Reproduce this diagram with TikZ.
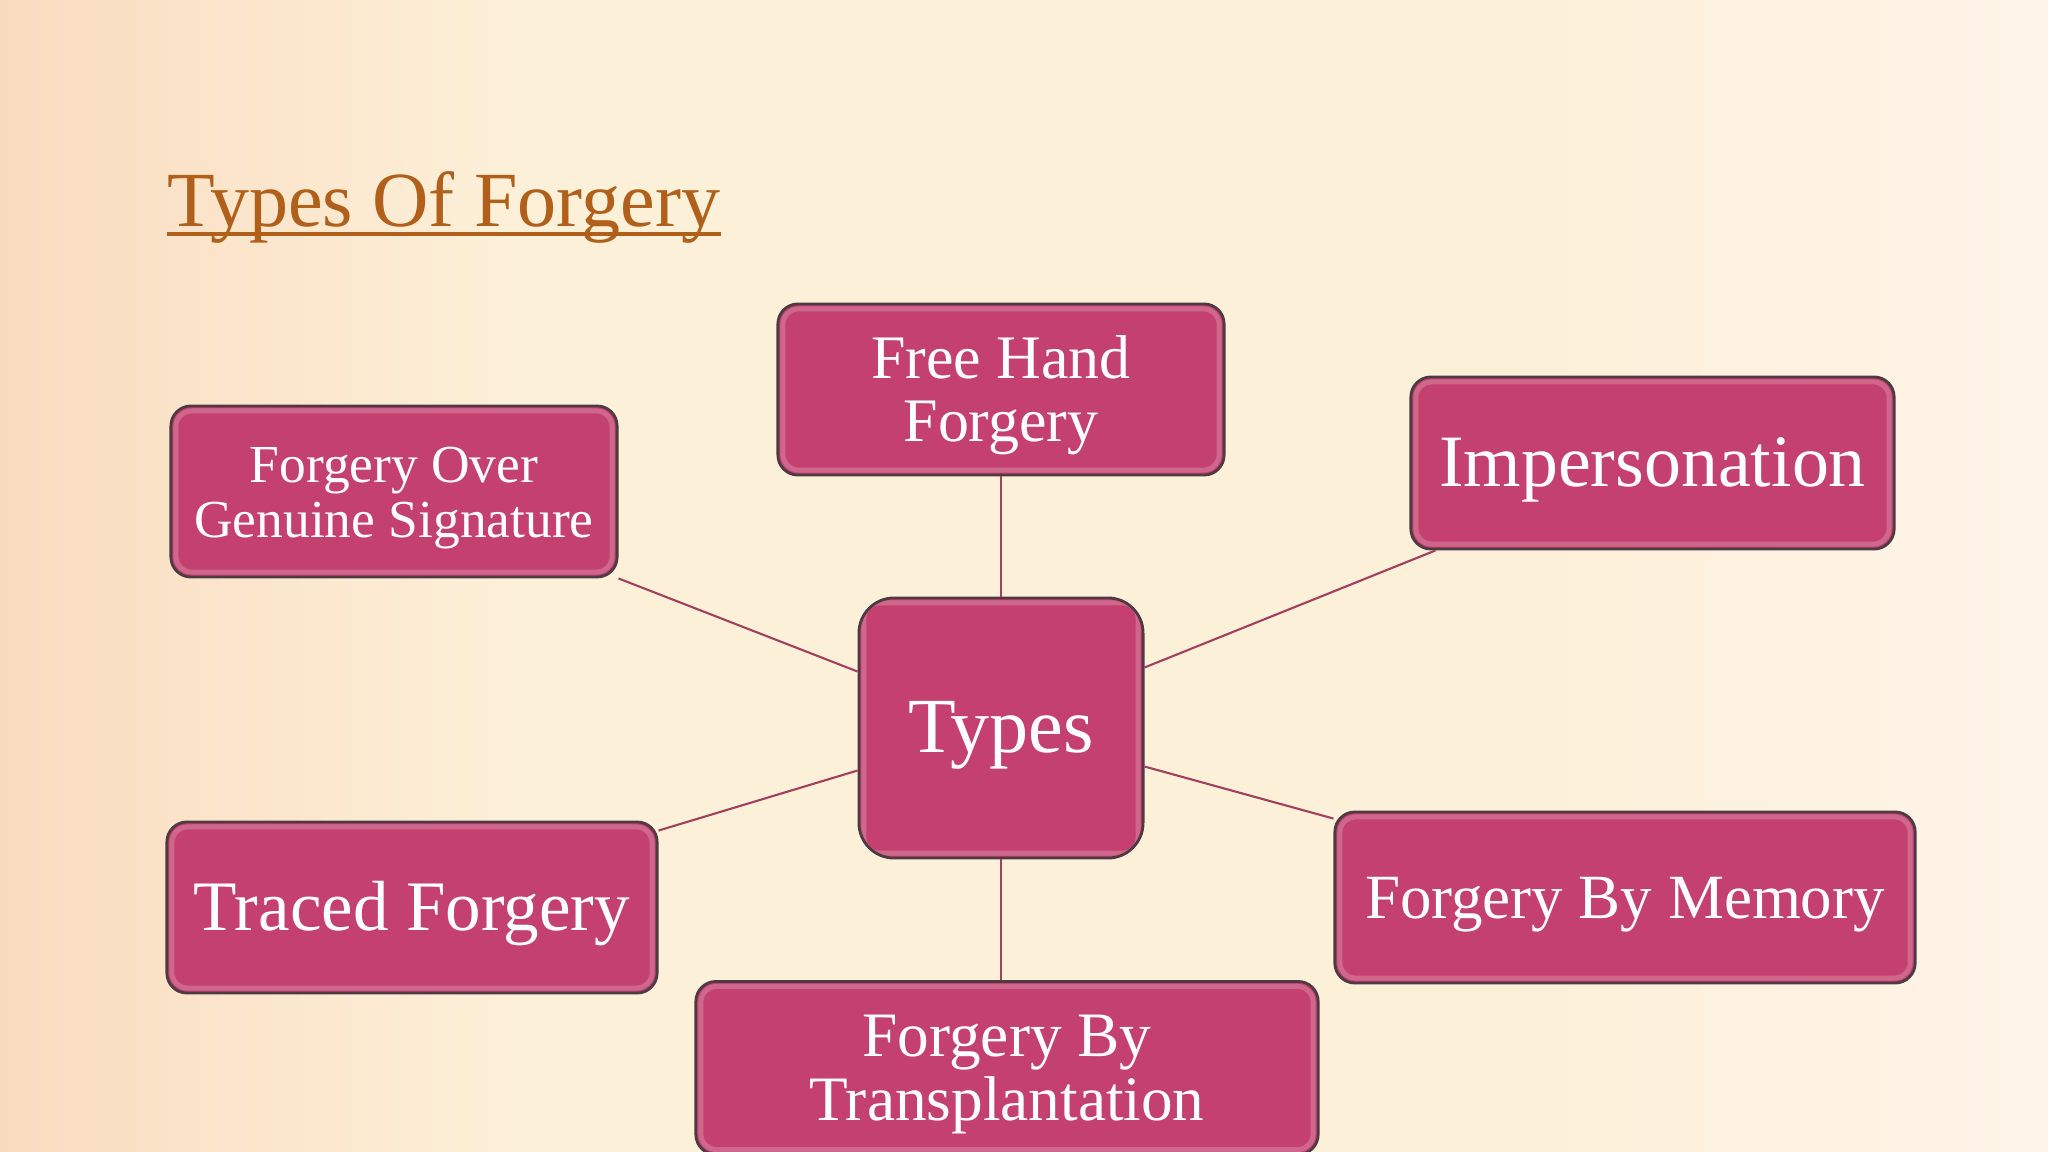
\documentclass[tikz,border=0pt]{standalone}
\usepackage{fontspec}
\setmainfont{Liberation Serif}
\usetikzlibrary{calc}
\definecolor{boxfill}{HTML}{C4416F}
\definecolor{boxline}{HTML}{4E3A42}
\definecolor{conn}{HTML}{A3405E}
\definecolor{titlec}{HTML}{B0601A}
\definecolor{bgA}{HTML}{F9DCC0}
\definecolor{bgB}{HTML}{FDF0D9}
\definecolor{bgC}{HTML}{FEF4E8}
\newcommand\cardtext[1]{\raisebox{-2.2pt}[\height][\depth]{\begin{tabular}{@{}c@{}}#1\end{tabular}}}
\begin{document}
\begin{tikzpicture}[x=0.01cm,y=-0.01cm,
  card/.style={rectangle, rounded corners=5.7pt, fill=boxfill, draw=boxline, line width=0.8pt,
    text=white, align=center, inner sep=0pt,
    path picture={\draw[white, opacity=0.2, line width=1.4pt, rounded corners=4.5pt]
      ($(path picture bounding box.south west)+(5,-5)$) rectangle ($(path picture bounding box.north east)+(-5,5)$);}},
  link/.style={draw=conn, line width=0.6pt}]
\useasboundingbox (0,0) rectangle (2048,1152);
\clip (0,0) rectangle (2048,1152);
\fill[bgB] (0,0) rectangle (2048,1152);
\fill[left color=bgA, right color=bgB] (0,0) rectangle (520,1152);
\fill[left color=bgB, right color=bgC] (1500,0) rectangle (2048,1152);
% title
\node[anchor=base west, inner sep=0pt, text=titlec, font={\fontsize{22.2}{24}\selectfont}] (title) at (167,227) {Types Of Forgery};
\draw[titlec, line width=1pt] ($(title.base west)+(0,7)$) -- ($(title.base east)+(0,7)$);
% nodes
\node[card, rounded corners=10pt, minimum width=2.84cm, minimum height=2.60cm, font={\fontsize{22.2}{24}\selectfont}] (types) at (1001,728) {\cardtext{Types}};
\node[card, minimum width=4.46cm, minimum height=1.71cm, font={\fontsize{17.6}{18}\selectfont}] (fh) at (1001,389.5) {\cardtext{Free Hand\\Forgery}};
\node[card, minimum width=4.46cm, minimum height=1.71cm, font={\fontsize{15.2}{15.4}\selectfont}] (fog) at (394,491.5) {\cardtext{Forgery Over\\Genuine Signature}};
\node[card, minimum width=4.83cm, minimum height=1.72cm, font={\fontsize{21}{22}\selectfont}] (imp) at (1652.5,463) {\cardtext{Impersonation}};
\node[card, minimum width=4.90cm, minimum height=1.71cm, font={\fontsize{20.2}{22}\selectfont}] (traced) at (412,907.5) {\cardtext{Traced Forgery}};
\node[card, minimum width=5.80cm, minimum height=1.71cm, font={\fontsize{17.9}{19}\selectfont}] (mem) at (1625,897.5) {\cardtext{Forgery By Memory}};
\node[card, minimum width=6.22cm, minimum height=1.73cm, font={\fontsize{18}{18}\selectfont}] (tr) at (1007,1068) {\cardtext{Forgery By\\Transplantation}};
% connectors
\draw[link] (fh.south) -- (types.north);
\draw[link] (fog.south east) -- ($(types.north west)+(0,75)$);
\draw[link] ($(imp.south west)+(26,0)$) -- ($(types.north east)+(0,71)$);
\draw[link] ($(traced.north east)+(0,10)$) -- ($(types.north west)+(0,174)$);
\draw[link] ($(types.north east)+(0,170)$) -- ($(mem.north west)+(0,8)$);
\draw[link] (types.south) -- (types.south |- tr.north);
\end{tikzpicture}
\end{document}
